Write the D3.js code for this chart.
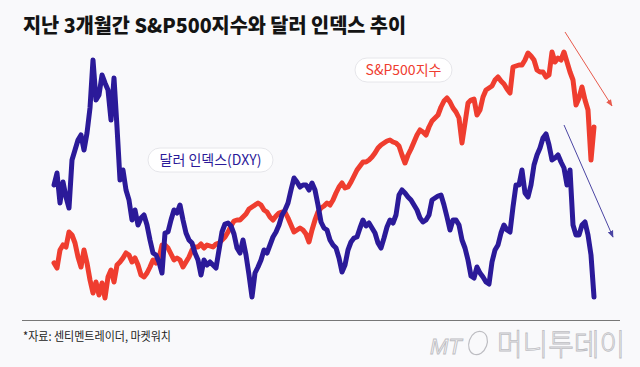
<!DOCTYPE html>
<html>
<head>
<meta charset="utf-8">
<script src="https://cdn.jsdelivr.net/npm/d3@7"></script>
<style>
  body { margin: 0; background: #f9f9fb; }
  svg { display: block; }
</style>
</head>
<body>
<svg width="640" height="367"></svg>
<script>
var svg = d3.select("svg");
var width = +svg.attr("width");
var height = +svg.attr("height");

// S&P500 index (equal time steps)
var spx = [
  4074, 4064, 4100, 4110, 4106, 4136, 4130, 4114, 4086, 4066,
  4100, 4074, 4040, 4014, 4036, 4010, 4034, 4004, 4046, 4060,
  4036, 4070, 4076, 4084, 4094, 4090, 4076, 4084, 4070, 4050,
  4046, 4054, 4066, 4080, 4074, 4084, 4110, 4110, 4104, 4092,
  4080, 4084, 4080, 4066, 4076, 4086, 4100, 4106, 4106, 4112,
  4104, 4110, 4108, 4106, 4112, 4114, 4120, 4126, 4136, 4148,
  4158, 4160, 4160, 4166, 4172, 4182, 4186, 4190, 4194, 4190,
  4180, 4176, 4166, 4160, 4168, 4174, 4176, 4176, 4164, 4150,
  4136, 4140, 4144, 4140, 4132, 4116, 4140, 4160, 4176, 4184,
  4188, 4194, 4190, 4200, 4214, 4226, 4234, 4224, 4226, 4236,
  4248, 4260, 4268, 4276, 4276, 4280, 4286, 4294, 4304, 4310,
  4314, 4318, 4320, 4316, 4314, 4308, 4290, 4274, 4290, 4302,
  4316, 4330, 4340, 4336, 4330, 4346, 4358, 4364, 4370, 4386,
  4398, 4404, 4396, 4384, 4376, 4364, 4314, 4354, 4394, 4400,
  4402, 4370, 4380, 4406, 4420, 4424, 4428, 4440, 4446, 4438,
  4432, 4422, 4414, 4466, 4468, 4470, 4470, 4480, 4494, 4488,
  4480, 4460, 4456, 4456, 4446, 4450, 4496, 4476, 4484, 4480,
  4496, 4476, 4456, 4440, 4390, 4404, 4426, 4400, 4380, 4280,
  4346
];

// Dollar index (DXY), same time steps
var dxy = [
  102.30, 102.54, 101.94, 102.36, 102.06, 101.84, 102.80, 103.00, 103.20, 103.30,
  103.00, 103.34, 103.84, 104.80, 104.00, 104.10, 104.50, 104.34, 104.20, 103.60,
  104.44, 103.46, 102.40, 102.60, 102.20, 102.00, 101.60, 101.80, 101.50, 101.64,
  101.70, 101.50, 101.20, 100.94, 100.90, 100.76, 100.54, 101.34, 101.36, 101.60,
  101.80, 101.74, 101.90, 101.60, 101.34, 101.20, 101.14, 100.94, 100.80, 100.50,
  100.80, 100.70, 100.76, 100.70, 100.64, 101.00, 101.36, 101.52, 101.54, 101.48,
  101.32, 101.04, 100.94, 101.20, 100.90, 100.50, 100.06, 100.54, 100.66, 100.80,
  101.00, 100.94, 101.10, 101.26, 101.36, 101.50, 101.70, 101.80, 101.94, 102.20,
  102.44, 102.36, 102.26, 102.30, 102.30, 102.20, 102.34, 102.20, 101.90, 101.56,
  101.44, 101.40, 101.20, 101.10, 101.04, 100.84, 100.56, 100.70, 101.00, 101.16,
  101.24, 101.26, 101.44, 101.60, 101.48, 101.54, 101.44, 101.34, 101.14, 101.04,
  101.24, 101.46, 101.60, 101.54, 101.70, 102.10, 102.20, 102.14, 102.06, 102.00,
  101.90, 101.80, 101.64, 101.56, 101.60, 101.70, 102.00, 102.04, 102.08, 102.10,
  101.90, 101.66, 101.40, 101.60, 101.60, 101.50, 101.20, 101.04, 100.80, 100.48,
  100.44, 100.66, 100.54, 100.46, 100.36, 100.32, 100.76, 101.00, 101.10, 101.34,
  101.50, 101.40, 101.36, 101.86, 102.30, 102.30, 102.60, 102.14, 102.06, 102.30,
  102.70, 102.90, 103.04, 103.24, 103.32, 103.10, 102.80, 102.84, 102.90, 102.76,
  102.64, 102.30, 102.60, 101.50, 101.30, 101.30, 101.50, 101.56, 101.30, 100.90,
  100.06
];

var title = "지난 3개월간 S&P500지수와 달러 인덱스 추이";
var source = "*자료: 센티멘트레이더, 마켓워치";
var spxLabel = "S&P500지수";
var dxyLabel = "달러 인덱스(DXY)";

var red = "#ef3d2f";
var blue = "#2b1a99";

svg.append("rect")
    .attr("width", width)
    .attr("height", height)
    .attr("fill", "#f9f9fb");

var x = d3.scaleLinear().domain([0, spx.length - 1]).range([54, 594]);
var ySpx = d3.scaleLinear().domain([4000, 4500]).range([300, 50]);
var yDxy = d3.scaleLinear().domain([100, 105]).range([300, 50]);

// title
svg.append("text")
    .attr("x", 23)
    .attr("y", 33)
    .attr("textLength", 383)
    .attr("lengthAdjust", "spacingAndGlyphs")
    .style("font-family", "'Noto Sans CJK KR', 'Noto Sans', sans-serif")
    .style("font-size", "20px")
    .style("font-weight", "800")
    .attr("fill", "#141414")
    .text(title);

// lines
var lineSpx = d3.line()
    .x(function(d, i) { return x(i); })
    .y(function(d) { return ySpx(d); });

var lineDxy = d3.line()
    .x(function(d, i) { return x(i); })
    .y(function(d) { return yDxy(d); });

svg.append("path")
    .datum(spx)
    .attr("d", lineSpx)
    .attr("fill", "none")
    .attr("stroke", red)
    .attr("stroke-width", 5)
    .attr("stroke-linejoin", "round")
    .attr("stroke-linecap", "round");

svg.append("path")
    .datum(dxy)
    .attr("d", lineDxy)
    .attr("fill", "none")
    .attr("stroke", blue)
    .attr("stroke-width", 5)
    .attr("stroke-linejoin", "round")
    .attr("stroke-linecap", "round");

// trend arrows
var defs = svg.append("defs");
[["arrowRed", "#e85a4c"], ["arrowBlue", "#4b45a3"]].forEach(function(m) {
    defs.append("marker")
        .attr("id", m[0])
        .attr("viewBox", "0 0 10 10")
        .attr("refX", 9)
        .attr("refY", 5)
        .attr("markerWidth", 7)
        .attr("markerHeight", 7)
        .attr("orient", "auto")
        .append("path")
        .attr("d", "M0,1 L10,5 L0,9 Z")
        .attr("fill", m[1]);
});

svg.append("line")
    .attr("x1", 565).attr("y1", 32)
    .attr("x2", 612).attr("y2", 106)
    .attr("stroke", "#e85a4c")
    .attr("stroke-width", 1)
    .attr("marker-end", "url(#arrowRed)");

svg.append("line")
    .attr("x1", 564).attr("y1", 125)
    .attr("x2", 613).attr("y2", 237)
    .attr("stroke", "#4b45a3")
    .attr("stroke-width", 1)
    .attr("marker-end", "url(#arrowBlue)");

// series labels
function pill(x0, y0, w, label, color) {
    var g = svg.append("g").attr("transform", "translate(" + x0 + "," + y0 + ")");
    g.append("rect")
        .attr("width", w)
        .attr("height", 24)
        .attr("rx", 12)
        .attr("fill", "#ffffff")
        .attr("stroke", "#e6e6ea");
    g.append("text")
        .attr("x", w / 2)
        .attr("y", 17)
        .attr("text-anchor", "middle")
        .style("font-family", "'Noto Sans CJK KR', 'Noto Sans', sans-serif")
        .style("font-size", "14px")
        .attr("fill", color)
        .text(label);
}
pill(355, 58, 97, spxLabel, red);
pill(148, 148, 125, dxyLabel, blue);

// footer
svg.append("line")
    .attr("x1", 22).attr("x2", 620)
    .attr("y1", 320.5).attr("y2", 320.5)
    .attr("stroke", "#777")
    .attr("stroke-width", 1);

svg.append("text")
    .attr("x", 23)
    .attr("y", 341)
    .attr("textLength", 148)
    .attr("lengthAdjust", "spacingAndGlyphs")
    .style("font-family", "'Noto Sans CJK KR', 'Noto Sans', sans-serif")
    .style("font-size", "12px")
    .attr("fill", "#222")
    .text(source);

// watermark
svg.append("text")
    .attr("x", 430)
    .attr("y", 354)
    .style("font-family", "'Liberation Sans', sans-serif")
    .style("font-size", "22px")
    .style("font-style", "italic")
    .attr("fill", "none")
    .attr("stroke", "#bdbdc2")
    .attr("stroke-width", 0.9)
    .text("MT");

svg.append("ellipse")
    .attr("cx", 478).attr("cy", 343)
    .attr("rx", 9).attr("ry", 12)
    .attr("transform", "rotate(20,478,343)")
    .attr("fill", "none")
    .attr("stroke", "#bdbdc2")
    .attr("stroke-width", 1.2);

svg.append("text")
    .attr("x", 497)
    .attr("y", 355)
    .attr("textLength", 128)
    .attr("lengthAdjust", "spacingAndGlyphs")
    .style("font-family", "'Noto Sans CJK KR', sans-serif")
    .style("font-size", "30px")
    .style("font-weight", "300")
    .attr("fill", "none")
    .attr("stroke", "#bdbdc2")
    .attr("stroke-width", 0.9)
    .text("머니투데이");
</script>
</body>
</html>
